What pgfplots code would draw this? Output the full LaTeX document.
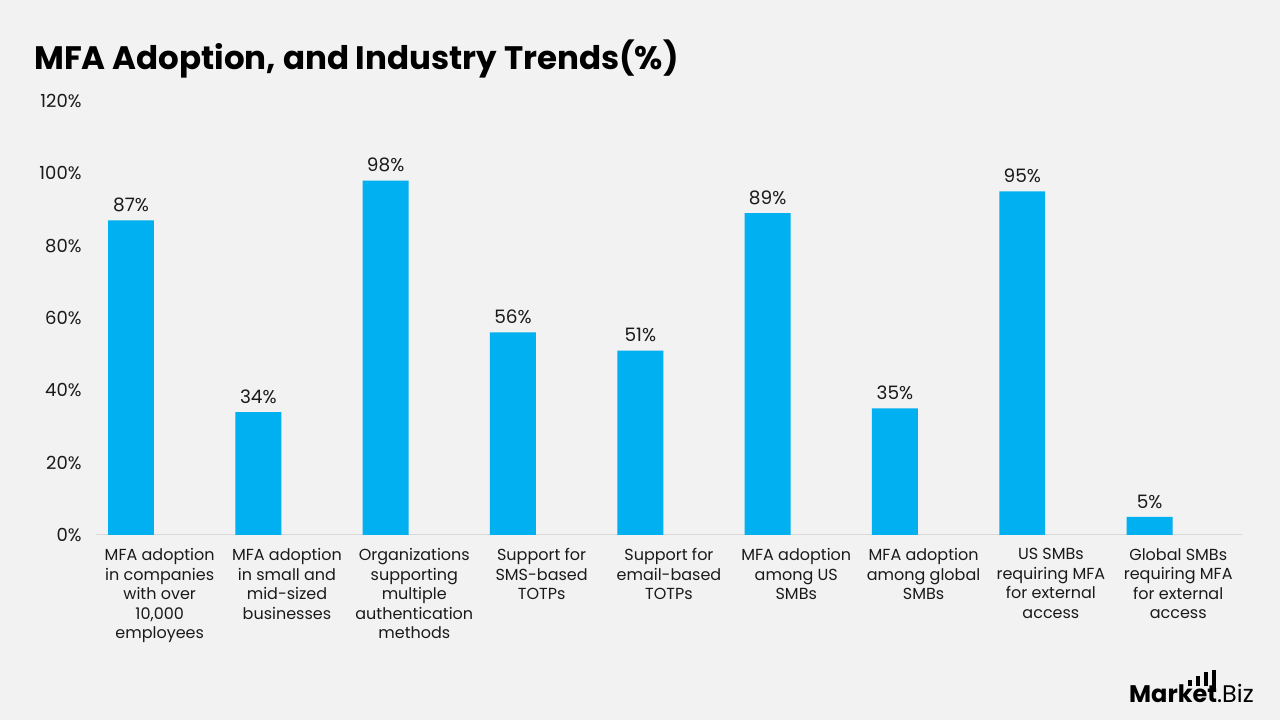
\documentclass[border=0pt]{standalone}
\usepackage{pgfplots}
\pgfplotsset{compat=1.18}
\usepackage{fontspec}
\setmainfont{Poppins}
\definecolor{bg}{HTML}{F2F2F2}
\definecolor{barc}{HTML}{00B0F0}
\definecolor{axl}{HTML}{D9D9D9}
\definecolor{txt}{HTML}{1A1A1A}
\begin{document}
\begin{tikzpicture}[x=1pt,y=1pt]
\fill[bg] (0,0) rectangle (1280,720);
\node[anchor=base west, inner sep=0pt, font=\fontsize{32.5}{38}\selectfont\bfseries] at (34,720-70) {MFA Adoption, and Industry Trends(\%)};
\begin{axis}[
  at={(96pt,185pt)}, anchor=south west,
  scale only axis, width=1146pt, height=434pt,
  xmin=-0.5, xmax=8.5, ymin=0, ymax=120,
  axis x line*=bottom, axis y line*=left,
  x axis line style={axl, line width=1pt, -},
  y axis line style={draw=none},
  major tick length=0pt,
  ytick={0,20,...,120},
  yticklabel={\pgfmathprintnumber{\tick}\%},
  /pgf/number format/assume math mode=true,
  yticklabel style={font=\fontsize{18}{20}\selectfont, text=txt, xshift=-11pt},
  xtick={0,...,8},
  xticklabels={
    {MFA adoption\\in companies\\with over\\10,000\\employees},
    {MFA adoption\\in small and\\mid-sized\\businesses},
    {Organizations\\supporting\\multiple\\authentication\\methods},
    {Support for\\SMS-based\\TOTPs},
    {Support for\\email-based\\TOTPs},
    {MFA adoption\\among US\\SMBs},
    {MFA adoption\\among global\\SMBs},
    {US SMBs\\requiring MFA\\for external\\access},
    {Global SMBs\\requiring MFA\\for external\\access}},
  xticklabel style={font=\fontsize{16}{19.5}\selectfont, text=txt, align=center, yshift=-10pt},
  ybar, bar width=0.361, bar shift=-0.225,
  nodes near coords={\pgfmathprintnumber{\pgfplotspointmeta}\%},
  nodes near coords style={font=\fontsize{18.5}{21}\selectfont, text=txt, yshift=5pt},
]
\addplot[fill=barc, draw=none] coordinates {(0,87) (1,34) (2,98) (3,56) (4,51) (5,89) (6,35) (7,95) (8,5)};
\end{axis}
% logo
\node[anchor=base west, inner sep=0pt, font=\fontsize{24}{27}\selectfont] at (1129,720-703) {\textbf{Market}.Biz};
\fill[black] (1188,720-686) rectangle (1191.5,720-680);
\fill[black] (1196,720-686) rectangle (1199.5,720-676);
\fill[black] (1204,720-686) rectangle (1207.5,720-672);
\fill[black] (1212,720-690) rectangle (1215.5,720-670);
\end{tikzpicture}
\end{document}
